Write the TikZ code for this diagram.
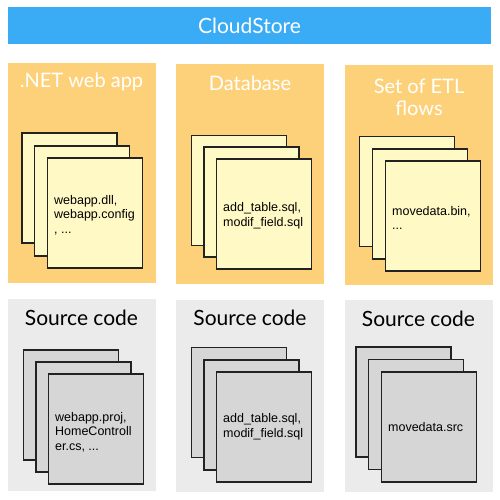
\documentclass[tikz,border=0pt]{standalone}
\usepackage{fontspec}
\setmainfont{Liberation Sans}
\newfontfamily\titlefont{Lato}
\definecolor{barblue}{HTML}{3AACF5}
\definecolor{panelorange}{HTML}{FDD179}
\definecolor{docyellow}{HTML}{FFF9C6}
\definecolor{panelgray}{HTML}{EBEBEB}
\definecolor{docgray}{HTML}{D6D6D6}
\definecolor{docline}{HTML}{222222}
\tikzset{
  bar/.style={fill=barblue, draw=none, minimum width=483pt, minimum height=37pt, inner sep=0pt},
  opanel/.style={fill=panelorange, draw=none, minimum width=148pt, minimum height=220pt, inner sep=0pt},
  gpanel/.style={fill=panelgray, draw=none, minimum width=148pt, minimum height=192pt, inner sep=0pt},
  doc/.style={draw=docline, line width=1.1pt, minimum width=95pt, minimum height=110pt, inner sep=0pt},
  ydoc/.style={doc, fill=docyellow},
  gdoc/.style={doc, fill=docgray},
  doctext/.style={anchor=west, inner sep=0pt, align=left, font=\fontsize{12.5}{14.5}\selectfont},
  otitle/.style={text=white, font=\titlefont\fontsize{20}{22}\selectfont, align=center, inner sep=0pt},
  gtitle/.style={text=black, font=\titlefont\fontsize{21}{24}\selectfont, align=center, inner sep=0pt},
}
\begin{document}
\begin{tikzpicture}[x=1pt,y=-1pt]
\useasboundingbox (0,0) rectangle (500,500);
\fill[white] (0,0) rectangle (500,500);
% top bar
\node[bar] (bar) at (249.5,25.5) {};
\node[text=white, font=\titlefont\fontsize{21}{24}\selectfont, inner sep=0pt] (bartitle) at (249.5,26) {CloudStore};
% orange panels
\node[opanel] (p1) at (81.5,173) {};
\node[opanel] (p2) at (250,174) {};
\node[opanel] (p3) at (419,175) {};
\node[otitle] (t1) at (81.5,82) {.NET web app};
\node[otitle] (t2) at (250,83) {Database};
\node[otitle] (t3) at (419,97) {Set of ETL\\flows};
% orange panel docs
\node[ydoc] (d1a) at (69.5,188) {};
\node[ydoc] (d1b) at (82,201) {};
\node[ydoc] (d1c) at (95,213) {};
\node[doctext] (x1) at ([xshift=7pt,yshift=-2pt]d1c.west) {webapp.dll,\\webapp.config\\, ...};
\node[ydoc] (d2a) at (239,190.5) {};
\node[ydoc] (d2b) at (251.5,202) {};
\node[ydoc] (d2c) at (264,214) {};
\node[doctext] (x2) at ([xshift=7pt,yshift=-2pt]d2c.west) {add\_table.sql,\\modif\_field.sql};
\node[ydoc] (d3a) at (407,191.5) {};
\node[ydoc] (d3b) at (420,204) {};
\node[ydoc] (d3c) at (433,216) {};
\node[doctext] (x3) at ([xshift=7pt,yshift=-2pt]d3c.west) {movedata.bin,\\...};
% gray panels
\node[gpanel] (g1) at (81.5,395) {};
\node[gpanel] (g2) at (250,396) {};
\node[gpanel] (g3) at (418.5,396) {};
\node[gtitle] (s1) at (81.5,318) {Source code};
\node[gtitle] (s2) at (250,318) {Source code};
\node[gtitle] (s3) at (418.5,319) {Source code};
% gray panel docs
\node[gdoc] (e1a) at (71,405) {};
\node[gdoc] (e1b) at (83.5,417) {};
\node[gdoc] (e1c) at (96,429) {};
\node[doctext] (y1) at ([xshift=7pt,yshift=-3pt]e1c.west) {webapp.proj,\\HomeControll\\er.cs, ...};
\node[gdoc] (e2a) at (239,402.5) {};
\node[gdoc] (e2b) at (251.5,415) {};
\node[gdoc] (e2c) at (264,427) {};
\node[doctext] (y2) at ([xshift=7pt,yshift=0pt]e2c.west) {add\_table.sql,\\modif\_field.sql};
\node[gdoc] (e3a) at (403.5,402) {};
\node[gdoc] (e3b) at (416,414.5) {};
\node[gdoc] (e3c) at (429,427) {};
\node[doctext] (y3) at ([xshift=7pt,yshift=0pt]e3c.west) {movedata.src};
\end{tikzpicture}
\end{document}
